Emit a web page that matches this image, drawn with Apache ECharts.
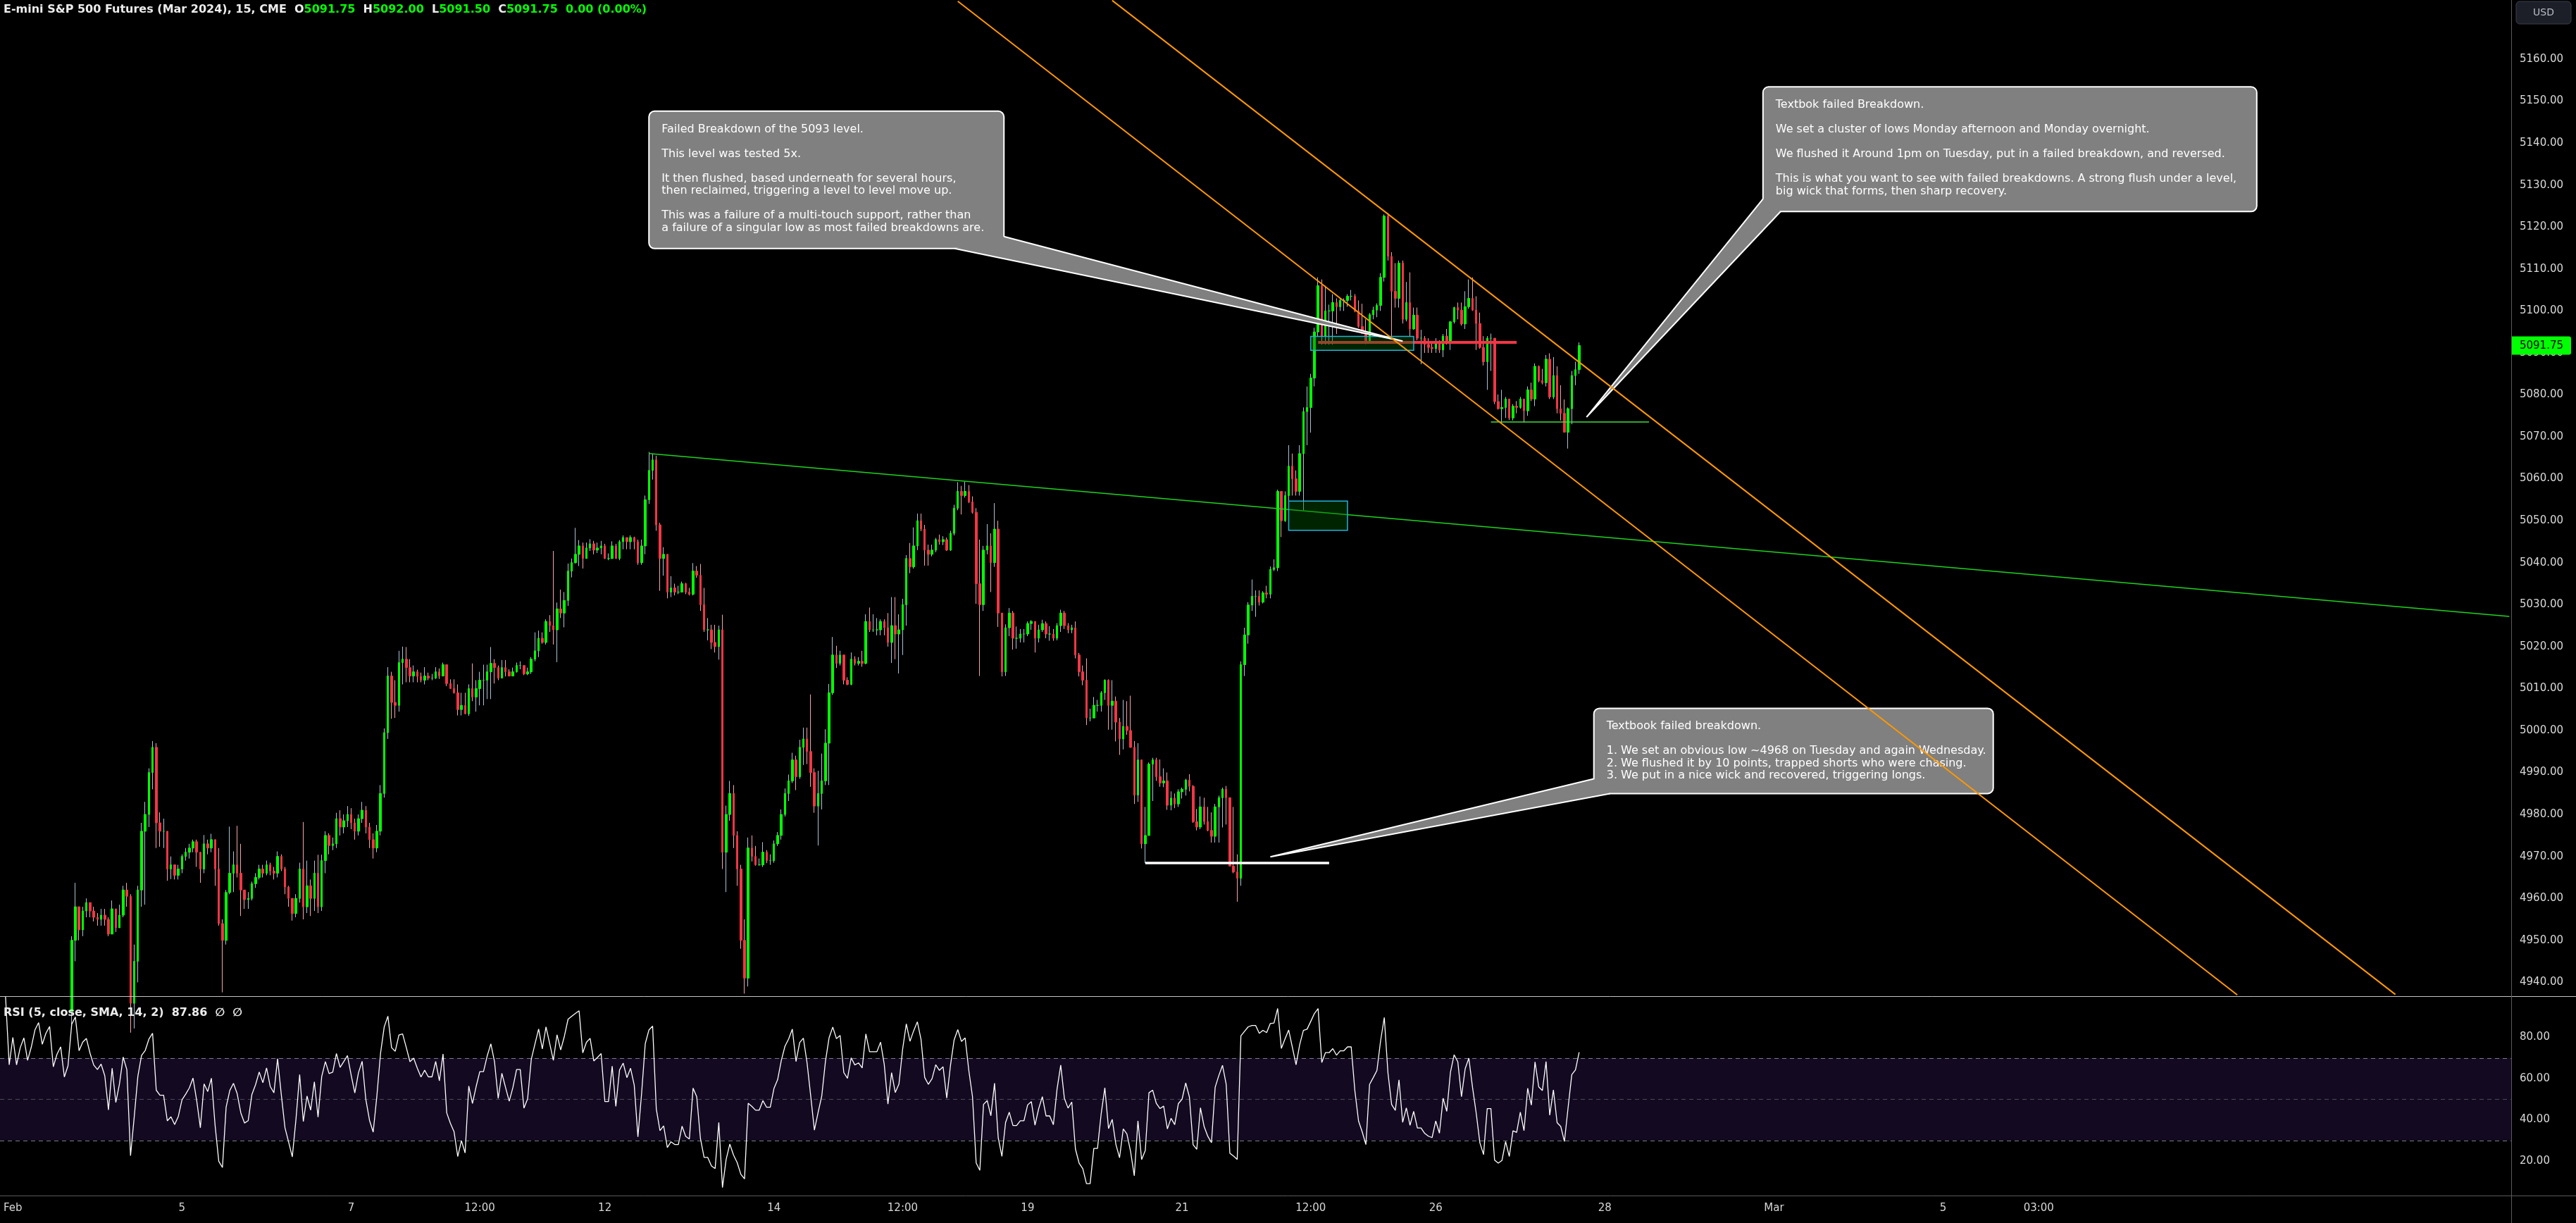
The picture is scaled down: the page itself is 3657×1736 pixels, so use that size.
<!DOCTYPE html>
<html>
<head>
<meta charset="utf-8">
<script src="https://cdn.jsdelivr.net/npm/echarts@6/dist/echarts.min.js"></script>
<style>
html,body{margin:0;padding:0;background:#000;}
#chart{width:3657px;height:1736px;}
</style>
</head>
<body>
<div id="chart"></div>
<script>
// ================= DATA (hourly bars) =================
// one entry per trading hour, starting 2024-01-31 21:00 (New York time)
const closes = [
4906,4910,4908,4912,4910,4914,4917,4915,4918,4924,
4928,4926,4930,4933,4929,4932,4934,4931,4933,4950,
4958,4952.5,4957,4959,4957,4955.5,4955,4956,4955,4951.5,
4957.5,4953,4956,4962,4960.5,4935,4945,4962,4976,4980,
4990,4996,4978,4976,4976,4967,4968,4965.5,4967,4970,
4971,4972,4973.5,4971,4967,4973,4972,4974,4967,4954,
4950,4961.4,4966,4968,4966,4962,4959.7,4960,4963.5,4965,
4967,4966,4968,4966.5,4966,4970,4967,4962.7,4960,4956.4,
4960,4967,4958,4963,4960,4966,4958,4969,4975,4972.6,
4973,4979,4977,4978.5,4980,4978,4976,4979,4981,4977,
4974,4972,4976,4985,4999.5,5013,5006.7,5006,5016.2,5017,
5015,5013,5014,5012.9,5012,5013,5012.5,5012.5,5014,5013,
5015.7,5011.2,5010,5009,5005,5006,5004,5010,5008,5010,
5012,5012,5014,5016,5015,5012.5,5015,5014,5013,5014,
5015.5,5015.5,5013.5,5014,5017,5019,5022,5021,5026,5025,
5024,5029,5028,5031,5038,5040,5042,5044,5041,5043.5,
5044.5,5043,5043.5,5044,5041,5041,5044,5041,5045,5046,
5045,5046,5045,5040,5044,5055,5062,5064.5,5049,5041,
5042,5033,5034,5033,5033,5035,5033,5032.5,5038,5037,
5030,5024,5024,5021,5020,5024,4971,4980,4985,4975,
4967,4950,4941,4972,4970,4968,4968,4971,4969,4969,
4973,4975,4980,4985,4988,4993,4989,4996,4998,4995,
4990,4982,4985,4988,4997,5009,5018,5016,5018,5012,
5011,5017,5016,5016.5,5016,5026,5024,5024,5024,5026,
5024.5,5021,5025,5023,5024,5030,5041,5039,5044,5050,
5048,5043,5042,5043,5045.5,5045,5045.5,5043,5047,5053,
5057,5056,5057,5054.5,5052,5035,5030,5043,5044,5040,
5048,5028,5014,5024.5,5028,5022,5022,5023,5023,5025.5,
5026,5022,5024,5025.5,5023,5023,5022,5025,5028,5025,
5024,5024.5,5018,5014,5012,5003,5003,5006,5006,5009,
5012,5006,5007,5002,4998,5001,5000,4996,4984.6,4993,
4973,4975,4992,4993,4989,4987.5,4988,4982.2,4983.9,4982.5,
4985.4,4986,4988.2,4986.7,4978.3,4977,4981.8,4978.3,4976.2,4974.8,
4981.8,4984,4986,4984,4967.7,4966.3,4964.8,5015.7,5022.8,5029.9,
5032,5032,5030.6,5032.8,5032.5,5038.4,5038.8,5057,5050,5056,
5063,5060,5057,5066,5076,5077,5084,5095,5106,5094,
5100,5100,5102,5101,5102.5,5102.5,5103.5,5103.5,5100,5096.3,
5094.6,5092.4,5099.1,5100.2,5101.3,5108,5122.6,5113,5104.7,5103,
5111.4,5098,5102,5095.7,5099,5093.5,5093.5,5092,5091.3,5091,
5092.5,5090.7,5094,5092.5,5097.4,5100.8,5100.2,5096.9,5101,5103,
5100.2,5097,5091.3,5087.9,5093.5,5093.5,5078.4,5076.7,5077,5079,
5074.5,5077.3,5077,5079,5076.2,5081.2,5079,5086.8,5083.4,5082.9,
5088.5,5079.5,5084.6,5076.7,5075.6,5071.1,5076.7,5084.6,5086,5091.75
];
const highs = [
4912,4913,4912,4915,4914,4916,4919,4919,4921,4927,
4931,4932,4933,4936,4935,4935,4936,4935,4935,4951,
4963.7,4956,4958,4960,4959,4958,4956.5,4957.5,4957.5,4955.5,
4959.5,4956.5,4958.5,4963,4963.7,4961,4949,4963,4978,4983,
4991,4997.5,4997,4980.5,4979,4976,4970,4968,4968,4970.5,
4972,4973,4974,4974,4970,4975.1,4974,4975.4,4974,4972,
4955,4962,4977.1,4971.2,4977.3,4973,4962,4961.5,4964,4966,
4968,4968,4969,4968.5,4967.5,4971.2,4970.5,4967.5,4963,4960,
4961,4968.5,4978.2,4969,4964.5,4969,4970.4,4970.4,4976,4975.5,
4974.5,4980.4,4981,4980,4982,4981.5,4979,4980,4983,4982,
4978,4975.5,4977.5,4987,5000.5,5015.1,5014,5012,5019,5020,
5019.9,5017,5015.5,5014.5,5013.8,5015.1,5013.8,5013.5,5015.1,5014.8,
5016.2,5015.5,5012.2,5012.2,5011,5009,5009,5011,5016,5012,
5014,5015.7,5015.7,5019.9,5017,5015.5,5016.8,5016.8,5014.6,5015,
5016.2,5016.5,5015.5,5015,5017.5,5023.4,5023.8,5023.4,5026.5,5027.5,
5042.8,5030.5,5033.6,5033,5039.8,5041,5048.3,5045.4,5044.8,5044.8,
5045.6,5045.2,5044.8,5045.2,5044.5,5042.2,5045.1,5044.5,5045.4,5046.5,
5046,5046.5,5046.2,5045.5,5045.5,5056,5066.4,5066,5065.5,5049.5,
5043.7,5042,5036.8,5035,5034.5,5035.5,5035.2,5034,5039.9,5039.2,
5039.7,5034,5026.8,5025.2,5025.2,5025,5027.6,4982.1,4988,4987,
4976,4968,4955,4974.5,4975,4972.5,4969.5,4973.4,4971.5,4970.5,
4973.8,4975.8,4981.2,4986.2,4989.5,4994.7,4994,4997.8,5000.7,5000.7,
5008.6,4991,4990.4,4994.5,5000.3,5011.1,5022.3,5020.2,5019,5018,
5012.7,5018.6,5017.7,5017.5,5019,5027.7,5029.3,5027.7,5026.8,5026.5,
5026.5,5028,5031.8,5031.8,5027.7,5031.4,5041.8,5044.7,5048.4,5051.7,
5051.7,5049,5044.3,5044.3,5045.9,5046.7,5046.3,5046,5047.6,5053.8,
5059.2,5058.3,5059.3,5058.5,5055.8,5053,5045.5,5044,5049.2,5047,
5054.2,5050,5027,5025.3,5029.2,5028.5,5024.8,5024.2,5024.2,5026,
5026.3,5026,5025.2,5026.4,5026,5024.9,5024.2,5025.6,5028.8,5028.5,
5025.6,5025.2,5026,5018.5,5015.5,5017.2,5005.2,5008,5007.3,5009.4,
5012.2,5012.2,5012,5008.1,5003,5007.3,5007,5008.3,4997.5,4997,
4992,4981.8,4992.4,4993.5,4993.5,4993.1,4991,4990,4985.5,4985,
4986,4986.4,4988.5,4989.6,4987,4981.3,4984.3,4984,4981.8,4980.5,
4982.5,4984.5,4986.4,4986.8,4984,4981.8,4970.5,5016.5,5024.5,5030.6,
5036,5033.4,5033.4,5033.2,5034.5,5039.1,5040.8,5057.4,5056,5057,
5068,5066,5062,5068,5077,5082,5085,5096,5108,5107.5,
5106,5101.5,5104,5103,5103,5103,5104,5105,5104,5102.5,
5101.7,5098,5099.5,5101,5101.8,5109,5123,5123.3,5114,5111.4,
5112,5112,5106.9,5109.2,5100.8,5100.8,5095.5,5094,5093.5,5092.5,
5093.5,5093,5094.5,5095.7,5097.6,5101,5102,5102,5104.7,5107.5,
5108,5103.5,5099.6,5094,5094,5094.6,5090.1,5080.1,5081.2,5079.5,
5078.5,5077.8,5078.5,5079.5,5079,5082,5082.9,5087.5,5087,5086.2,
5089.5,5089.9,5089,5086.8,5082.3,5078.9,5077,5085.7,5087.9,5092.5
];
const lows = [
4900,4904,4905,4906,4907,4908,4912,4912,4913,4916,
4920,4922,4924,4927,4926,4927,4929,4928,4929,4930,
4945,4950,4951,4955.5,4955.5,4954.5,4953.5,4953.5,4953.5,4951,
4951.5,4952,4953,4955.5,4958,4928,4929,4940,4958,4958.5,
4977,4986,4972,4972.3,4972,4964.2,4964.6,4964.5,4964.5,4966,
4969,4969.5,4971,4967.5,4963.7,4966,4970.5,4971,4963,4953.5,
4937.6,4949,4961,4961.5,4965,4955.8,4957.5,4957.5,4959.5,4962.5,
4964.5,4965,4965.5,4965.5,4964.5,4965,4966.5,4961,4958,4954.7,
4955.5,4959,4955,4956.5,4955.8,4957,4956.5,4957,4966,4970.5,
4971.5,4972,4975,4975.5,4977,4976.5,4974,4975,4978,4975.5,
4972,4969.5,4971,4975,4984,4998,5002.8,5003,5004.5,5011,
5011.5,5011.5,5011.5,5011.5,5011.5,5011,5012,5012,5012.3,5012.3,
5012.9,5010.6,5010,5008.8,5003.6,5003.6,5003.9,5003.5,5007,5004.5,
5006,5006,5007.5,5007.5,5011.2,5012,5012.5,5012.9,5012.9,5013.2,
5013.8,5014.6,5013.2,5013.2,5013.5,5016.5,5017.5,5020.7,5020.5,5023.5,
5020.5,5016.3,5026.8,5024.6,5029.7,5036.5,5039.8,5039.2,5038.6,5041.5,
5042.8,5042,5042.3,5042,5040.9,5040.6,5040.9,5040.9,5040.6,5043.2,
5043.2,5043.2,5043.2,5039.5,5039.5,5042,5054,5059.8,5047.6,5033.3,
5036.9,5031.5,5031.8,5032.2,5032.5,5033.5,5032.5,5032.2,5032.2,5036.4,
5028.5,5023.5,5021.5,5019.4,5018.6,5016.9,4967,4961.5,4978.5,4972,
4963,4948,4937.3,4939,4968.8,4967.8,4967.8,4967.5,4968.4,4968,
4968.5,4972.5,4974,4979.5,4983.2,4987.5,4985.8,4988.5,4991.8,4992,
4986.6,4980.4,4972.6,4981.2,4987,4987,5008.5,5014.9,5015.5,5011,
5010.8,5010.8,5015.5,5015.5,5015.2,5015.8,5023.5,5023.5,5022.7,5022.7,
5022.7,5020,5016.1,5017,5013.6,5018,5025,5037.5,5038.6,5043,
5047.5,5039.3,5039.3,5041.5,5042.5,5044.3,5044.2,5042.8,5042.8,5046.5,
5052.5,5051.5,5055.5,5054.2,5051.7,5030.2,5013,5028.5,5042,5033,
5039,5024.7,5012.9,5013,5022.5,5019.3,5019.5,5021,5021,5022.5,
5024,5018.6,5021,5023.5,5022,5021.4,5021.4,5021.5,5023.5,5024.2,
5023.2,5023.2,5017.2,5012.9,5010.8,5001.3,5002.2,5003.5,5004.5,5004.5,
5007.3,5000.2,5000.2,4997.4,4994.2,4995.5,4999,4995.9,4982.5,4983,
4971.9,4968.4,4975,4983.2,4988,4986.6,4986.5,4981.1,4981,4981.5,
4981.8,4983.8,4984.5,4985.5,4978,4976.2,4976.5,4977.6,4976,4973.3,
4973.3,4973.3,4976.9,4977.6,4967.7,4966,4959.2,4963,5013,5020.7,
5028.5,5027.1,5029.8,5030.3,5031.5,5031.5,5038,5038,5046.1,5049.7,
5049.3,5056,5056,5056,5052.5,5068,5071,5082,5094,5092,
5092,5092,5092,5094.5,5100,5100,5101,5102.5,5099.7,5096,
5094.5,5092.1,5092.3,5098,5098.5,5100,5107,5112,5093.5,5100.8,
5100.8,5097,5097.5,5094,5095.5,5093,5087.3,5090,5090,5090,
5090,5090,5089,5092,5090.7,5097,5098,5096.5,5095.7,5100.5,
5100,5090.7,5091,5087,5081.2,5085.7,5077.8,5076.5,5073.4,5074.5,
5074,5073.9,5075.6,5076.7,5073.4,5075,5078.5,5077.3,5083,5082.5,
5082,5079,5079,5075.6,5073.9,5071,5067.2,5073,5082.3,5085
];
const priceTicks = [4940,4950,4960,4970,4980,4990,5000,5010,5020,5030,5040,5050,
  5060,5070,5080,5090,5100,5110,5120,5130,5140,5150,5160];
const rsiTicks = [20,40,60,80];
const timeTicks = [
  ['2024-02-01 00:00','Feb'],['2024-02-05 00:00','5'],['2024-02-07 00:00','7'],
  ['2024-02-08 12:00','12:00'],['2024-02-12 00:00','12'],['2024-02-14 00:00','14'],
  ['2024-02-15 12:00','12:00'],['2024-02-19 00:00','19'],['2024-02-21 00:00','21'],
  ['2024-02-22 12:00','12:00'],['2024-02-26 00:00','26'],['2024-02-28 00:00','28'],
  ['2024-03-01 00:00','Mar'],['2024-03-05 00:00','5'],['2024-03-06 03:00','03:00']
];
const lastPrice = 5091.75;
const headerName = 'E-mini S&P 500 Futures (Mar 2024), 15, CME';
const headerO = '5091.75', headerH = '5092.00', headerL = '5091.50', headerC = '5091.75';
const headerChg = '0.00 (0.00%)';
const rsiTitle = 'RSI (5, close, SMA, 14, 2)';
const rsiLast = '87.86';
const earlyClose = {'2024-02-19': 12};   // Presidents' Day session ends 13:00
const totalSlots = 683;                  // chart keeps projecting session hours to the right

// drawings: [slot, price]
const channelUpper = [[302, 5174.0], [651, 4937.1]];
const channelLower = [[260, 5173.8], [608, 4937.0]];
const trendLine = [[176, 5066.0], [682, 5027.2]];
const redLevel = [[358, 5092.5], [412, 5092.5]];
const greenLevel = [[405, 5073.5], [448, 5073.5]];
const whiteLevel = [[311, 4968.5], [361, 4968.5]];
const boxUpper = [[356, 5093.95], [384, 5090.6]];
const boxLower = [[350, 5054.7], [366, 5047.7]];

const calloutA = 'Failed Breakdown of the 5093 level.\n\nThis level was tested 5x.\n\nIt then flushed, based underneath for several hours,\nthen reclaimed, triggering a level to level move up.\n\nThis was a failure of a multi-touch support, rather than\na failure of a singular low as most failed breakdowns are.';
const calloutB = 'Textbok failed Breakdown.\n\nWe set a cluster of lows Monday afternoon and Monday overnight.\n\nWe flushed it Around 1pm on Tuesday, put in a failed breakdown, and reversed.\n\nThis is what you want to see with failed breakdowns. A strong flush under a level,\nbig wick that forms, then sharp recovery.';
const calloutC = 'Textbook failed breakdown.\n\n1. We set an obvious low ~4968 on Tuesday and again Wednesday.\n2. We flushed it by 10 points, trapped shorts who were chasing.\n3. We put in a nice wick and recovered, triggering longs.';
const calloutAnchorA = [176, 5147.6], calloutTipA = [381, 5092.8];
const calloutAnchorB = [479, 5153.4], calloutTipB = [431, 5074.7];
const calloutAnchorC = [433, 5005.3], calloutTipC = [345, 4969.9];

// ================= BUILD =================
function pad(n){return (n<10?'0':'')+n;}
function buildSlots(){
  const out=[]; const d=new Date(Date.UTC(2024,0,31)); let first=true;
  while(out.length<totalSlots){
    const dow=d.getUTCDay(); const ds=d.toISOString().slice(0,10);
    let hours=[];
    const range=(a,b)=>{for(let h=a;h<=b;h++)hours.push(h);};
    if(first){range(21,23);first=false;}
    else if(dow===6){}
    else if(dow===0){range(18,23);}
    else if(dow===5){range(0,16);}
    else if(earlyClose[ds]!==undefined){range(0,earlyClose[ds]);range(18,23);}
    else {range(0,16);range(18,23);}
    hours.forEach(h=>{ if(out.length<totalSlots) out.push(ds+' '+pad(h)+':00'); });
    d.setUTCDate(d.getUTCDate()+1);
  }
  return out;
}
const slots = buildSlots();
const tickMap = new Map(timeTicks);

const wickData=[], bodyData=[];
for(let i=0;i<closes.length;i++){
  const o = i===0 ? closes[0] : closes[i-1];
  const c = closes[i];
  const hi = Math.max(highs[i], o, c), lo = Math.min(lows[i], o, c);
  wickData.push([o, c, lo, hi]);
  bodyData.push([o, c, Math.min(o,c), Math.max(o,c)]);
}
function rsi(cl, n){
  const out=[null]; let ag=0, al=0;
  for(let i=1;i<cl.length;i++){
    const ch=cl[i]-cl[i-1]; const g=Math.max(ch,0), l=Math.max(-ch,0);
    if(i<=n){ag=(ag*(i-1)+g)/i; al=(al*(i-1)+l)/i;}
    else {ag=(ag*(n-1)+g)/n; al=(al*(n-1)+l)/n;}
    out.push(al===0?100:100-100/(1+ag/al));
  }
  return out;
}
const rsiVals = rsi(closes, 5);

const FONT='DejaVu Sans';
const seg = (p, style) => [{coord:p[0], lineStyle:style}, {coord:p[1]}];

const chart = echarts.init(document.getElementById('chart'), null, {renderer:'canvas', width:3657, height:1736});
chart.setOption({
  backgroundColor:'#000000',
  animation:false,
  title:[
    {left:5, top:6, padding:0,
     text:'{w|'+headerName+'  O}{g|'+headerO+'}{w|  H}{g|'+headerH+'}{w|  L}{g|'+headerL+'}{w|  C}{g|'+headerC+'}{g|  '+headerChg+'}',
     textStyle:{rich:{w:{color:'#ececec',fontSize:16,fontFamily:FONT}, g:{color:'#00ff00',fontSize:16,fontFamily:FONT}}}},
    {left:5, top:1430, padding:0,
     text:'{w|'+rsiTitle+'  '+rsiLast+'  \u2205  \u2205}',
     textStyle:{rich:{w:{color:'#ececec',fontSize:16,fontFamily:FONT}}}}
  ],
  grid:[
    {left:0, right:92, top:0, height:1414, containLabel:false},
    {left:0, right:92, top:1414, height:283, containLabel:false}
  ],
  xAxis:[
    {type:'category', gridIndex:0, data:slots, boundaryGap:true,
     axisLine:{show:false}, axisTick:{show:false}, axisLabel:{show:false}, splitLine:{show:false}},
    {type:'category', gridIndex:1, data:slots, boundaryGap:true,
     axisLine:{show:false}, axisTick:{show:false}, splitLine:{show:false},
     axisLabel:{show:true, interval:(i,v)=>tickMap.has(v), formatter:v=>tickMap.get(v)||'',
       color:'#d6d6d6', fontFamily:FONT, fontSize:15, margin:11, hideOverlap:false}}
  ],
  yAxis:[
    {type:'value', gridIndex:0, position:'right', min:4936.7, max:5174.1,
     axisLine:{show:false}, axisTick:{show:false}, splitLine:{show:false},
     axisLabel:{customValues:priceTicks, formatter:v=>Number(v).toFixed(2), color:'#d9d9d9', fontFamily:FONT, fontSize:15, margin:12}},
    {type:'value', gridIndex:1, position:'right', min:3.25, max:100,
     axisLine:{show:false}, axisTick:{show:false}, splitLine:{show:false},
     axisLabel:{customValues:rsiTicks, formatter:v=>Number(v).toFixed(2), color:'#d9d9d9', fontFamily:FONT, fontSize:15, margin:12}}
  ],
  series:[
    {name:'wicks', type:'candlestick', xAxisIndex:0, yAxisIndex:0, data:wickData, barWidth:1, clip:true, z:3,
     itemStyle:{color:'#a9c3d3', color0:'#f4a4ad', borderColor:'#a9c3d3', borderColor0:'#f4a4ad', borderWidth:1}},
    {name:'bodies', type:'candlestick', xAxisIndex:0, yAxisIndex:0, data:bodyData, barWidth:3, clip:true, z:4,
     itemStyle:{color:'#00ff00', color0:'#f23645', borderColor:'#00ff00', borderColor0:'#f23645', borderWidth:1}},
    {name:'levels', type:'line', xAxisIndex:0, yAxisIndex:0, data:[], z:6,
     markArea:{silent:true, z:7, itemStyle:{color:'rgba(0,95,0,0.38)', borderColor:'#22b3d8', borderWidth:1.5},
       data:[[{coord:boxUpper[0]},{coord:boxUpper[1]}],[{coord:boxLower[0]},{coord:boxLower[1]}]]},
     markLine:{silent:true, z:6, symbol:['none','none'], label:{show:false},
       data:[
         seg(trendLine, {color:'#1ed21e', width:1.5, type:'solid'}),
         seg(redLevel, {color:'#f23645', width:4, type:'solid'}),
         seg(greenLevel, {color:'#3fdc3f', width:1.5, type:'solid'}),
         seg(whiteLevel, {color:'#ffffff', width:3.5, type:'solid'})
       ]}},
    {name:'channel', type:'line', xAxisIndex:0, yAxisIndex:0, data:[], z:60,
     markLine:{silent:true, z:60, symbol:['none','none'], label:{show:false},
       data:[ seg(channelUpper, {color:'#ff9800', width:2, type:'solid'}),
              seg(channelLower, {color:'#ff9800', width:2, type:'solid'}) ]}},
    {name:'RSI', type:'line', xAxisIndex:1, yAxisIndex:1, data:rsiVals, showSymbol:false, z:5,
     lineStyle:{color:'#ffffff', width:1.3},
     markArea:{silent:true, z:1, itemStyle:{color:'#130a21'}, data:[[{yAxis:30},{yAxis:70}]]},
     markLine:{silent:true, z:2, symbol:['none','none'], label:{show:false},
       lineStyle:{color:'#7a7d86', width:1, type:[6,5]},
       data:[{yAxis:70},{yAxis:50, lineStyle:{color:'#4a4c55', type:[6,5]}},{yAxis:30}]}}
  ]
});

// ---- callouts and price tag, placed from data coordinates ----
function px(p){ return chart.convertToPixel({xAxisIndex:0, yAxisIndex:0}, p); }
function callout(text, anchor, tip, w, h, b1, b2){
  const a=px(anchor), t=px(tip);
  const x=a[0], y=a[1];
  const p1=[x+b1[0], y+b1[1]], p2=[x+b2[0], y+b2[1]];
  return [
    {type:'rect', z:50, shape:{x:x, y:y, width:w, height:h, r:8}, style:{fill:'#808080', stroke:'#ffffff', lineWidth:2}},
    {type:'polygon', z:51, shape:{points:[p1, t, p2]}, style:{fill:'#808080', stroke:null}},
    {type:'polyline', z:52, shape:{points:[p1, t, p2]}, style:{stroke:'#ffffff', lineWidth:2, fill:null}},
    {type:'text', z:53, x:x+18, y:y+17, style:{text:text, fill:'#ffffff', fontFamily:FONT, fontSize:16, lineHeight:17.5, align:'left', verticalAlign:'top'}}
  ];
}
const lastPx = px([closes.length-1, lastPrice]);
const g = [].concat(
  callout(calloutA, calloutAnchorA, calloutTipA, 504, 195, [434,195], [504,178]),
  callout(calloutB, calloutAnchorB, calloutTipB, 701, 177, [0,159], [25,177]),
  callout(calloutC, calloutAnchorC, calloutTipC, 567, 121, [0,100], [23,121]),
  [
    {type:'line', z:100, shape:{x1:0, y1:1414.5, x2:3657, y2:1414.5}, style:{stroke:'#c4c4c4', lineWidth:1}},
    {type:'line', z:100, shape:{x1:0, y1:1697.5, x2:3657, y2:1697.5}, style:{stroke:'#5a5a5a', lineWidth:1}},
    {type:'line', z:100, shape:{x1:3565.5, y1:0, x2:3565.5, y2:1736}, style:{stroke:'#5a5a5a', lineWidth:1}},
    {type:'rect', z:100, shape:{x:3572, y:2, width:78, height:32, r:5}, style:{fill:'#1c1f27', stroke:'#3b3f4a', lineWidth:1}},
    {type:'text', z:101, x:3611, y:18, style:{text:'USD', fill:'#b8bbc4', fontFamily:FONT, fontSize:14, align:'center', verticalAlign:'middle'}},
    {type:'rect', z:102, shape:{x:3566, y:lastPx[1]-13, width:84, height:26, r:[0,3,3,0]}, style:{fill:'#00ff00'}},
    {type:'text', z:103, x:3608, y:lastPx[1]+1, style:{text:lastPrice.toFixed(2), fill:'#000000', fontFamily:FONT, fontSize:15, align:'center', verticalAlign:'middle'}}
  ]
);
chart.setOption({graphic:g});
</script>
</body>
</html>
